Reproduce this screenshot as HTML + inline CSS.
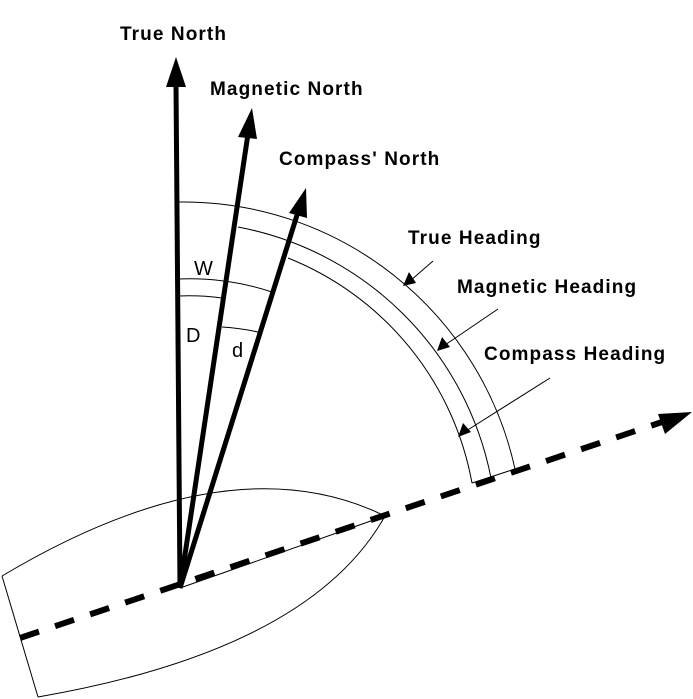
<!DOCTYPE html>
<html><head><style>
html,body{margin:0;padding:0;background:#fff;}
svg{display:block;}
text{font-family:"Liberation Sans",Arial,sans-serif;fill:#000;}
.b{font-weight:bold;font-size:19px;letter-spacing:1.1px;}
.n{font-size:20px;}
</style></head><body>
<svg width="693" height="699" viewBox="0 0 693 699" xmlns="http://www.w3.org/2000/svg">
<g fill="none" stroke="#000" stroke-width="1">
  <path d="M2,576 Q230,440 385,516"/>
  <path d="M38,697 Q310,650 385,516"/>
  <path d="M2,576 L38,697"/>
  <path d="M180,588 L385,516"/>
  <path d="M178,202 A340,340 0 0 1 515,469 L472,483"/>
  <path d="M238,227 A318,318 0 0 1 491,478"/>
  <path d="M288,258 A300,300 0 0 1 472,483"/>
  <path d="M178,279 A264,264 0 0 1 272,292"/>
  <path d="M178,296 A246,246 0 0 1 222,298"/>
  <path d="M222,327 A221,221 0 0 1 262,333"/>
  <path d="M433,261 L410,281"/>
  <path d="M498,309 L445,345"/>
  <path d="M550,378 L466,431"/>
</g>
<line x1="20" y1="638" x2="668" y2="420" stroke="#000" stroke-width="6" stroke-dasharray="20,17"/>
<polygon points="692,412 665,434 658,414" fill="#000"/>
<g stroke="#000" stroke-width="5" fill="none">
  <line x1="180" y1="588" x2="176" y2="84"/>
  <line x1="180" y1="588" x2="248" y2="134"/>
  <line x1="180" y1="588" x2="298" y2="212"/>
</g>
<polygon points="176,57 166,87 186,87" fill="#000"/>
<polygon points="252,108 238,137 257,139" fill="#000"/>
<polygon points="306,188 289,213 307,218" fill="#000"/>
<polygon points="403,286 409,272 416,283" fill="#000"/>
<polygon points="437,351 442,337 450,347" fill="#000"/>
<polygon points="458,437 463,423 471,432" fill="#000"/>
<text class="b" x="120" y="40">True North</text>
<text class="b" x="210" y="95">Magnetic North</text>
<text class="b" x="279" y="165">Compass' North</text>
<text class="b" x="408" y="244">True Heading</text>
<text class="b" x="457" y="293">Magnetic Heading</text>
<text class="b" x="484" y="360">Compass Heading</text>
<text class="n" x="194" y="275">W</text>
<text class="n" x="186" y="342">D</text>
<text class="n" x="232" y="357">d</text>
</svg>
</body></html>
